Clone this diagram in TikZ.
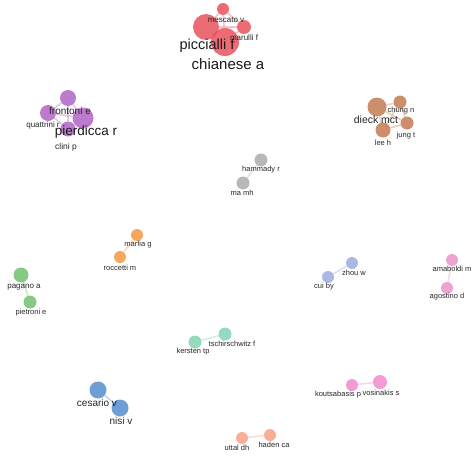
\documentclass[tikz,border=0pt]{standalone}
\usepackage{fontspec}
\setmainfont{Liberation Sans}
\usetikzlibrary{backgrounds}

\definecolor{cred}{RGB}{232,82,92}
\definecolor{cpurple}{RGB}{176,100,196}
\definecolor{cbrown}{RGB}{196,122,82}
\definecolor{cgray}{RGB}{172,172,172}
\definecolor{corange}{RGB}{246,152,62}
\definecolor{clav}{RGB}{158,170,222}
\definecolor{cpink}{RGB}{236,146,204}
\definecolor{cgreen}{RGB}{112,192,110}
\definecolor{cteal}{RGB}{132,212,178}
\definecolor{cblue}{RGB}{84,142,204}
\definecolor{crose}{RGB}{242,136,204}
\definecolor{csalmon}{RGB}{246,162,132}

\begin{document}
\begin{tikzpicture}[
  x=1pt, y=-1pt,
  au/.style={circle, inner sep=0pt, fill opacity=0.85, minimum size=#1},
  au/.default=13pt,
  lab/.style={inner sep=0pt, font=\fontsize{7.5}{8}\selectfont, text=black!85},
  mid/.style={inner sep=0pt, font=\fontsize{10}{11}\selectfont, text=black!85},
  big/.style={inner sep=0pt, font=\fontsize{14.5}{15}\selectfont, text=black!90},
  lk/.style={line width=1.6pt, draw=#1!45, draw opacity=0.8}
]
\useasboundingbox (0,0) rectangle (474,458);

% red cluster
\node[au=12pt, fill=cred] (mescato) at (223,9) {};
\node[au=14pt, fill=cred] (marulli) at (244,27) {};
\node[au=26pt, fill=cred] (piccialli) at (206,27) {};
\node[au=28pt, fill=cred] (chianese) at (225,42) {};
\node[lab, font=\fontsize{8}{9}\selectfont] (mescato-t) at (226,20) {mescato v};
\node[lab, font=\fontsize{8}{9}\selectfont] (marulli-t) at (244,38) {marulli f};
\node[big] (piccialli-t) at (207,46) {piccialli f};
\node[big, font=\fontsize{15}{16}\selectfont] (chianese-t) at (228,64) {chianese a};

% purple cluster
\node[au=16pt, fill=cpurple] (frontoni) at (68,98) {};
\node[au=16pt, fill=cpurple] (quattrini) at (48,113) {};
\node[au=21pt, fill=cpurple] (pierdicca) at (83,118) {};
\node[au=15pt, fill=cpurple] (clini) at (68,129) {};
\node[mid] (frontoni-t) at (70,111) {frontoni e};
\node[lab, font=\fontsize{8}{9}\selectfont] (quattrini-t) at (43,125) {quattrini r};
\node[big, font=\fontsize{13.5}{14}\selectfont] (pierdicca-t) at (86,132) {pierdicca r};
\node[lab, font=\fontsize{8.5}{9}\selectfont] (clini-t) at (66,147) {clini p};

% brown cluster
\node[au=19pt, fill=cbrown] (dieck) at (377,107) {};
\node[au=13pt, fill=cbrown] (chung) at (400,102) {};
\node[au=13pt, fill=cbrown] (jung) at (407,123) {};
\node[au=15pt, fill=cbrown] (lee) at (383,130) {};
\node[lab] (chung-t) at (401,111) {chung n};
\node[mid, font=\fontsize{10.5}{11}\selectfont] (dieck-t) at (376,120) {dieck mct};
\node[lab] (jung-t) at (406,136) {jung t};
\node[lab] (lee-t) at (383,143) {lee h};

% gray pair
\node[au, fill=cgray] (hammady) at (261,160) {};
\node[au, fill=cgray] (mamh) at (243,183) {};
\node[lab] (hammady-t) at (261,170) {hammady r};
\node[lab] (mamh-t) at (242,193) {ma mh};

% orange pair
\node[au=12pt, fill=corange] (marfia) at (137,235) {};
\node[au=12pt, fill=corange] (roccetti) at (120,257) {};
\node[lab] (marfia-t) at (138,245) {marfia g};
\node[lab] (roccetti-t) at (120,268) {roccetti m};

% lavender pair
\node[au=12pt, fill=clav] (zhou) at (352,263) {};
\node[au=12pt, fill=clav] (cui) at (328,277) {};
\node[lab] (zhou-t) at (354,273) {zhou w};
\node[lab] (cui-t) at (324,287) {cui by};

% pink pair
\node[au=12pt, fill=cpink] (amaboldi) at (452,260) {};
\node[au=12pt, fill=cpink] (agostino) at (447,288) {};
\node[lab] (amaboldi-t) at (452,269) {amaboldi m};
\node[lab] (agostino-t) at (447,297) {agostino d};

% green pair
\node[au=15pt, fill=cgreen] (pagano) at (21,275) {};
\node[au=13pt, fill=cgreen] (pietroni) at (30,302) {};
\node[lab, font=\fontsize{8}{9}\selectfont] (pagano-t) at (24,287) {pagano a};
\node[lab] (pietroni-t) at (31,313) {pietroni e};

% teal pair
\node[au, fill=cteal] (tschirschwitz) at (225,334) {};
\node[au, fill=cteal] (kersten) at (195,342) {};
\node[lab] (tschirschwitz-t) at (232,344) {tschirschwitz f};
\node[lab] (kersten-t) at (193,352) {kersten tp};

% blue pair
\node[au=17pt, fill=cblue] (cesario) at (98,390) {};
\node[au=17pt, fill=cblue] (nisi) at (120,408) {};
\node[mid] (cesario-t) at (97,403) {cesario v};
\node[mid] (nisi-t) at (121,421) {nisi v};

% rose pair
\node[au=12pt, fill=crose] (koutsabasis) at (352,385) {};
\node[au=14pt, fill=crose] (vosinakis) at (380,382) {};
\node[lab] (koutsabasis-t) at (338,395) {koutsabasis p};
\node[lab] (vosinakis-t) at (381,393) {vosinakis s};

% salmon pair
\node[au=12pt, fill=csalmon] (uttal) at (242,438) {};
\node[au=12pt, fill=csalmon] (haden) at (270,435) {};
\node[lab] (uttal-t) at (237,448) {uttal dh};
\node[lab] (haden-t) at (274,445) {haden ca};

\begin{scope}[on background layer]
\draw[lk=cred] (mescato) -- (marulli) -- (chianese) -- (piccialli) -- (mescato) -- (chianese);
\draw[lk=cred] (piccialli) -- (marulli);
\draw[lk=cpurple] (frontoni) -- (pierdicca) -- (clini) -- (quattrini) -- (frontoni) -- (clini);
\draw[lk=cpurple] (quattrini) -- (pierdicca);
\draw[lk=cbrown] (dieck) -- (chung) -- (jung) -- (lee) -- (dieck) -- (jung);
\draw[lk=cbrown] (chung) -- (lee);
\draw[lk=cgray] (hammady) -- (mamh);
\draw[lk=corange] (marfia) -- (roccetti);
\draw[lk=clav] (zhou) -- (cui);
\draw[lk=cpink] (amaboldi) -- (agostino);
\draw[lk=cgreen] (pagano) -- (pietroni);
\draw[lk=cteal] (tschirschwitz) -- (kersten);
\draw[lk=cblue] (cesario) -- (nisi);
\draw[lk=crose] (koutsabasis) -- (vosinakis);
\draw[lk=csalmon] (uttal) -- (haden);
\end{scope}
\end{tikzpicture}
\end{document}
